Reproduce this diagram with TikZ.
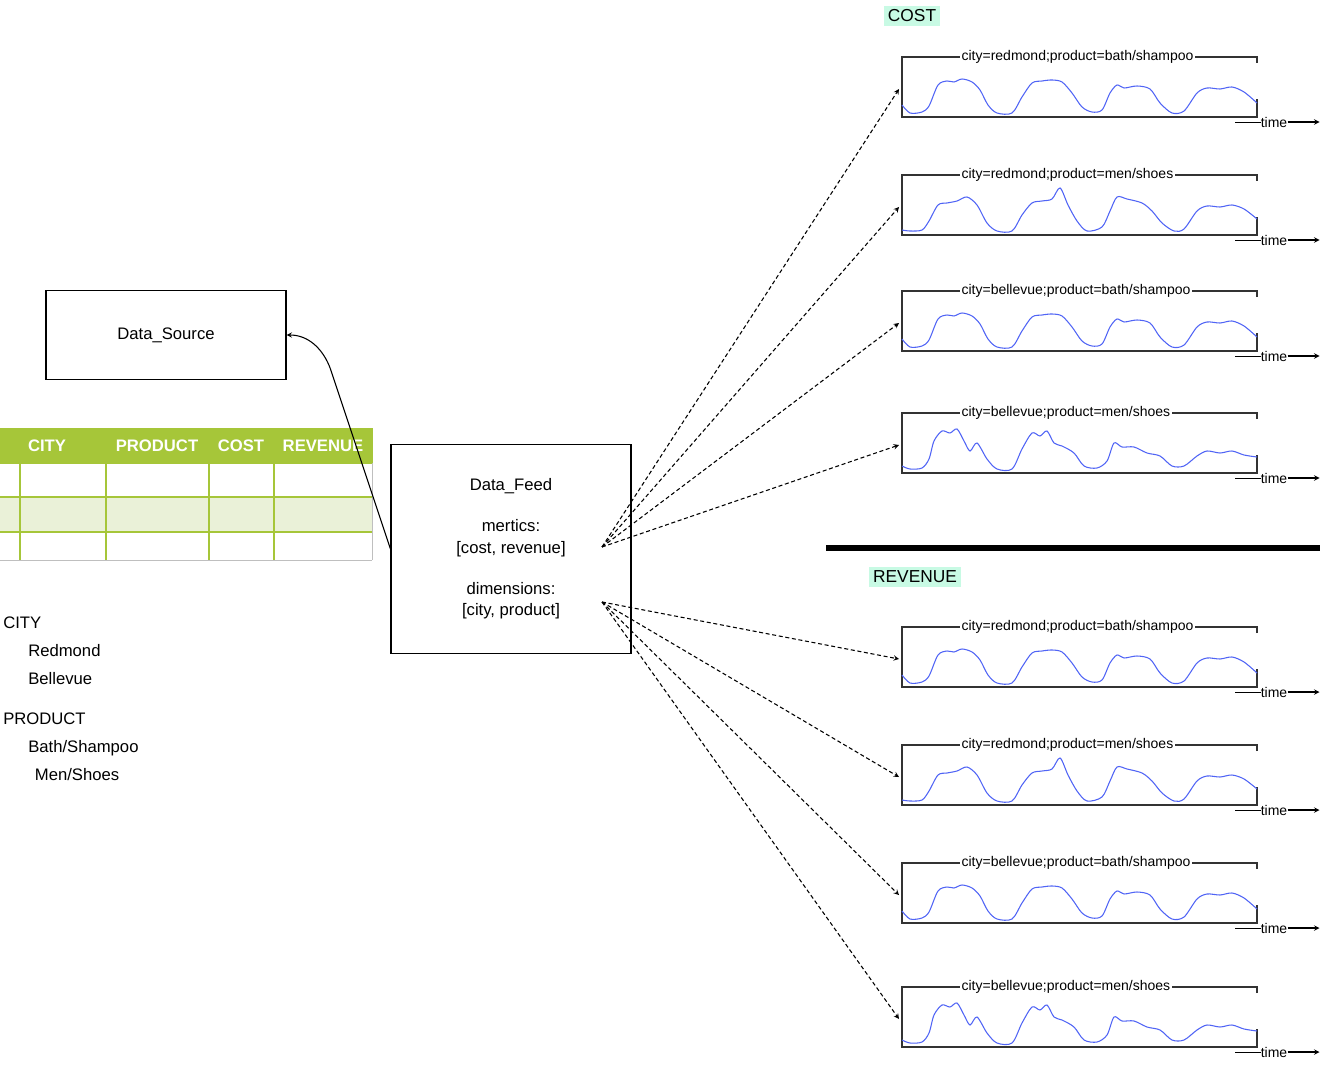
\documentclass[tikz,border=0pt]{standalone}
\usepackage{fontspec}
\setmainfont{Liberation Sans}
\usetikzlibrary{positioning}
\definecolor{tabgreen}{RGB}{166,198,57}
\definecolor{tablight}{RGB}{234,241,216}
\definecolor{mint}{RGB}{200,250,228}
\definecolor{wave}{RGB}{80,100,245}
\tikzset{
	box/.style={draw, thick, minimum width=180, minimum height=0, inner sep=0, align=center, font=\fontsize{12.5}{16}\selectfont},
	lbl/.style={font=\fontsize{10.5}{12}\selectfont, inner sep=1pt, fill=white},
	feedarrow/.style={->, >=stealth, densely dashed, thick},
	heading/.style={fill=mint, font=\fontsize{13}{15}\selectfont, inner sep=3pt}
}
\newcommand{\wavesmooth}{(0,10)(8,2)(20,3)(27,9)(36,30)(45,34)(52,33)(60,36)(70,33)(78,25)(86,10)(95,2)(110,2)(120,18)(130,32)(140,34)(150,35)(160,33)(170,22)(180,8)(190,3)(200,5)(208,22)(215,30)(222,27)(235,29)(248,26)(258,12)(270,2)(282,4)(295,22)(305,27)(318,26)(330,28)(342,23)(355,12)}
\newcommand{\wavespike}{(0,3)(8,2)(20,3)(27,12)(36,28)(45,30)(55,32)(65,36)(75,28)(85,10)(95,2)(110,2)(120,18)(130,30)(140,32)(150,34)(158,45)(166,28)(175,12)(185,2)(200,6)(208,22)(215,36)(225,34)(240,30)(250,22)(260,10)(272,2)(282,4)(295,22)(305,27)(318,26)(330,28)(342,24)(355,14)}
\newcommand{\wavesharp}{(0,5)(8,2)(20,3)(27,12)(32,30)(40,40)(48,38)(55,42)(62,30)(68,20)(75,28)(85,12)(95,2)(110,2)(120,22)(130,38)(138,35)(145,40)(152,28)(160,25)(172,18)(182,5)(195,3)(205,10)(212,28)(220,24)(232,24)(245,18)(258,15)(270,5)(282,5)(295,15)(305,20)(318,18)(330,20)(342,16)(355,14)}
\begin{document}
\begin{tikzpicture}[x=0.75pt, y=-0.75pt]
	\useasboundingbox (0,0) rectangle (1334,1066);

	% table
	\fill[tabgreen] (0,428) rectangle (373,463);
	\fill[tablight] (0,497) rectangle (373,532);
	\draw[tabgreen, thick] (0,463) -- (373,463) (0,497) -- (373,497) (0,532) -- (373,532);
	\draw[black!25] (0,560) -- (372,560) (372,463) -- (372,560);
	\foreach \x in {20,106,209,274}
		\draw[tabgreen, thick] (\x,428) -- (\x,560);
	\foreach \x/\t in {47/CITY,157/PRODUCT,241/COST,323/REVENUE}
		\node[text=white, font=\bfseries\fontsize{12.5}{14}\selectfont] (h\t) at (\x,446) {\t};

	% dimension values
	\node[anchor=north west, align=left, inner sep=0, font=\fontsize{12.5}{21}\selectfont] (cities) at (3,617) {CITY\\\hspace{1.5em}Redmond\\\hspace{1.5em}Bellevue};
	\node[anchor=north west, align=left, inner sep=0, font=\fontsize{12.5}{21}\selectfont] (products) at (3,713) {PRODUCT\\\hspace{1.5em}Bath/Shampoo\\\hspace{1.9em}Men/Shoes};

	% boxes
	\node[box, minimum height=67] (src) at (166,335) {Data\_Source};
	\node[box, minimum height=157] (feed) at (511,549) {Data\_Feed\\[1.2em]mertics:\\{}[cost, revenue]\\[1.2em]dimensions:\\{}[city, product]};
	\coordinate (bend) at (360,358);
	\draw[->, >=stealth, thick] (feed.west) -- ++(-60,-180) to[out=110, in=0] (src.east);

	% headings and divider
	\node[heading] (costhead) at (912,16) {COST};
	\node[heading] (revhead) at (915,577) {REVENUE};
	\draw[line width=4pt] (826,548) -- (1320,548);

	% charts
	\foreach \i/\top/\lab/\w in {
		1/57/redmond;product=bath\slash shampoo/\wavesmooth,
		2/175/redmond;product=men\slash shoes/\wavespike,
		3/291/bellevue;product=bath\slash shampoo/\wavesmooth,
		4/413/bellevue;product=men\slash shoes/\wavesharp,
		5/627/redmond;product=bath\slash shampoo/\wavesmooth,
		6/745/redmond;product=men\slash shoes/\wavespike,
		7/863/bellevue;product=bath\slash shampoo/\wavesmooth,
		8/987/bellevue;product=men\slash shoes/\wavesharp}{
		\draw[thick, black!80] (1257,\top+6) -- (1257,\top) -- (902,\top) -- (902,\top+60) -- (1257,\top+60) -- (1257,\top+42);
		\node[lbl, anchor=west] (t\i) at (960,\top) {city=\lab};
		\begin{scope}[shift={(902,\top+58)}, yscale=-1]
			\draw[wave, thick] plot[smooth, tension=0.5] coordinates {\w};
		\end{scope}
		\coordinate (c\i) at (899,\top+32);
		\node[lbl, inner sep=0pt] (time\i) at (1274,\top+65) {time};
		\draw (time\i.west) -- ++(-26,0);
		\draw[->, >=stealth, thick] (time\i.east) -- ++(32,0);
	}
	\coordinate (costout) at (602,547);
	\coordinate (revout) at (602,602);
	\foreach \i in {1,...,4}
		\draw[feedarrow] (costout) -- (c\i);
	\foreach \i in {5,...,8}
		\draw[feedarrow] (revout) -- (c\i);
\end{tikzpicture}
\end{document}
